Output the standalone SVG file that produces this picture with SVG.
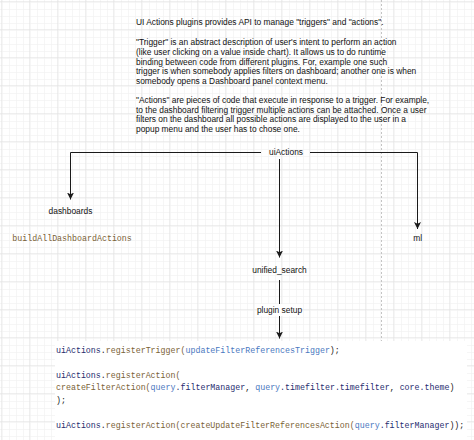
<svg xmlns="http://www.w3.org/2000/svg" width="474" height="440" viewBox="0 0 474 440">
<defs>
<pattern id="minor" x="1" y="1" width="7" height="7" patternUnits="userSpaceOnUse">
<path d="M 7 0 L 0 0 0 7" fill="none" stroke="#eeeeee" stroke-width="1"/>
</pattern>
<pattern id="major" x="1" y="1" width="28" height="28" patternUnits="userSpaceOnUse">
<rect width="28" height="28" fill="url(#minor)"/>
<path d="M 28 0 L 0 0 0 28" fill="none" stroke="#dfdfdf" stroke-width="1"/>
</pattern>
<marker id="arr" viewBox="0 0 10 10" refX="10" refY="5" markerWidth="7" markerHeight="7" markerUnits="userSpaceOnUse" orient="auto">
<path d="M0,0 L10,5 L0,10 L2.5,5 z" fill="#1a1a1a"/>
</marker>
<style>
.t{font-family:"Liberation Sans",Arial,Helvetica,sans-serif;font-size:8.4px;fill:#111}
.c{font-family:"Liberation Mono","DejaVu Sans Mono",monospace;font-size:8.3px;fill:#222}
.nv{fill:#262c6e}
.br{fill:#7a6236}
.bl{fill:#4a78c0}
.k{fill:#222}
.ln{fill:none;stroke:#1a1a1a;stroke-width:1}
</style>
</defs>
<rect width="474" height="440" fill="#ffffff"/>
<rect width="474" height="440" fill="url(#major)"/>
<line x1="381.5" y1="0" x2="381.5" y2="345" stroke="#c4c4c4" stroke-width="1" stroke-dasharray="2 2"/>

<g id="description">
<text class="t" x="136" y="24.7">UI Actions plugins provides API to manage "triggers" and "actions".</text>
<text class="t" x="136" y="45.3">"Trigger" is an abstract description of user's intent to perform an action</text>
<text class="t" x="136" y="54.9">(like user clicking on a value inside chart). It allows us to do runtime</text>
<text class="t" x="136" y="64.5">binding between code from different plugins. For, example one such</text>
<text class="t" x="136" y="74.1">trigger is when somebody applies filters on dashboard; another one is when</text>
<text class="t" x="136" y="83.7">somebody opens a Dashboard panel context menu.</text>
<text class="t" x="136" y="102.9">"Actions" are pieces of code that execute in response to a trigger. For example,</text>
<text class="t" x="136" y="112.5">to the dashboard filtering trigger multiple actions can be attached. Once a user</text>
<text class="t" x="136" y="122.1">filters on the dashboard all possible actions are displayed to the user in a</text>
<text class="t" x="136" y="131.7">popup menu and the user has to chose one.</text>
</g>

<g id="connectors">
<path class="ln" d="M 261 152.5 H 70.5 V 199.5" marker-end="url(#arr)"/>
<path class="ln" d="M 310 152.5 H 417.5 V 229" marker-end="url(#arr)"/>
<path class="ln" d="M 279.5 159 V 257.5" marker-end="url(#arr)"/>
<path class="ln" d="M 279.5 280 V 338.5" marker-end="url(#arr)"/>
<rect x="257" y="304" width="45" height="12" fill="#ffffff"/>
<text class="t" x="279.5" y="313" text-anchor="middle">plugin setup</text>
</g>

<g id="uiActions">
<text class="t" x="286" y="155.3" text-anchor="middle">uiActions</text>
</g>
<g id="dashboards">
<text class="t" x="70.5" y="214" text-anchor="middle">dashboards</text>
</g>
<g id="buildAllDashboardActions">
<text class="c br" x="12.3" y="241.3">buildAllDashboardActions</text>
</g>
<g id="ml">
<text class="t" x="417.7" y="241.2" text-anchor="middle">ml</text>
</g>
<g id="unified_search">
<text class="t" x="279.5" y="273" text-anchor="middle">unified_search</text>
</g>

<g id="code">
<rect x="55" y="341" width="412" height="99" fill="#ffffff"/>
<text class="c" x="56" y="353"><tspan class="nv">uiActions</tspan><tspan class="k">.</tspan><tspan class="br">registerTrigger(</tspan><tspan class="bl">updateFilterReferencesTrigger</tspan><tspan class="k">);</tspan></text>
<text class="c" x="56" y="378"><tspan class="nv">uiActions</tspan><tspan class="k">.</tspan><tspan class="br">registerAction(</tspan></text>
<text class="c" x="56" y="390.4"><tspan class="br">createFilterAction(</tspan><tspan class="bl">query</tspan><tspan class="nv">.filterManager</tspan><tspan class="k">, </tspan><tspan class="bl">query</tspan><tspan class="nv">.timefilter.timefilter</tspan><tspan class="k">, </tspan><tspan class="nv">core.theme</tspan><tspan class="k">)</tspan></text>
<text class="c k" x="56" y="402.8">);</text>
<text class="c" x="56" y="428"><tspan class="nv">uiActions</tspan><tspan class="k">.</tspan><tspan class="br">registerAction(createUpdateFilterReferencesAction(</tspan><tspan class="bl">query</tspan><tspan class="nv">.filterManager</tspan><tspan class="k">));</tspan></text>
</g>
</svg>
